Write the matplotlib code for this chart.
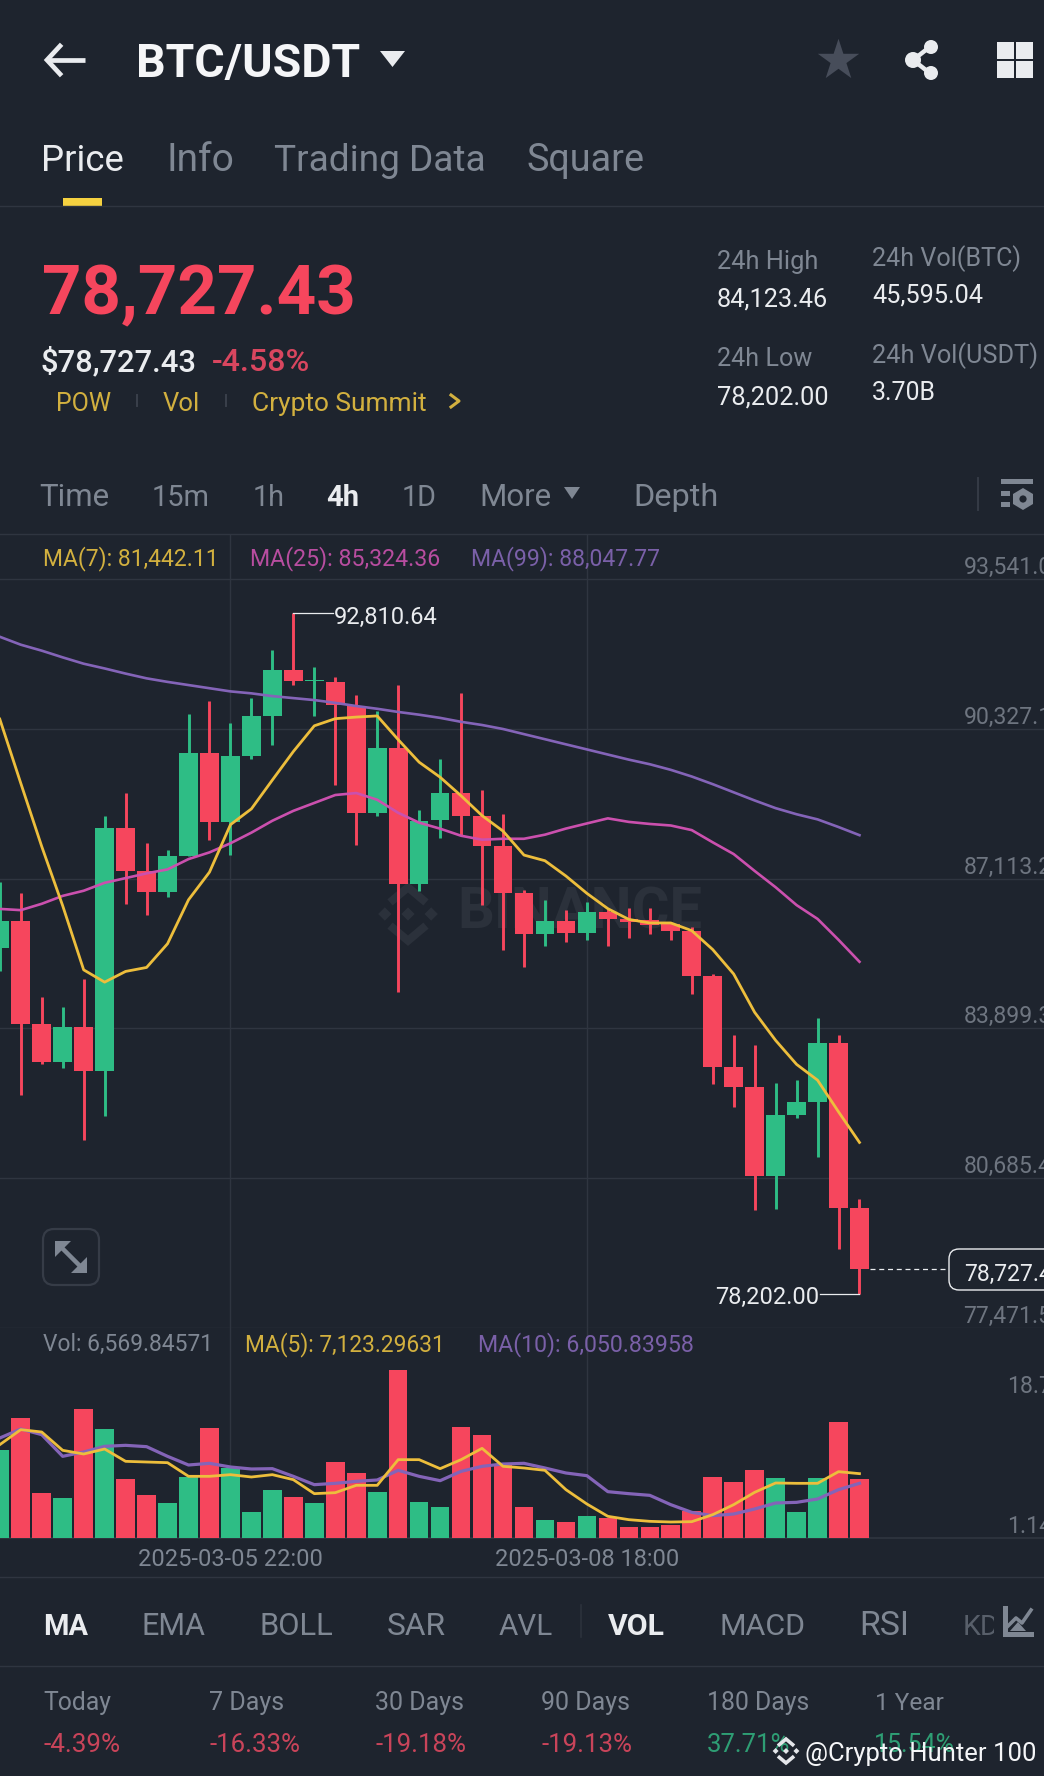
import matplotlib
matplotlib.use("Agg")
import matplotlib.pyplot as plt
from matplotlib.patches import FancyBboxPatch, Polygon, Rectangle, Circle

plt.rcParams['font.family'] = ['Roboto', 'DejaVu Sans']

# ---------- data ----------
candle_index = list(range(-1, 41))
candle_open = [85614, 86208, 83984, 83178, 83925, 82983, 88194, 87277, 86836, 87608, 89798, 88338, 89738, 90604,
               91597, 91351, 91342, 90816, 88525, 89925, 86989, 88363, 88958, 88449, 87815, 86797, 85921, 86194,
               85953, 86391, 86249, 86216, 86140, 85997, 85034, 83074, 82636, 80741, 82033, 82318, 83577, 80040]
candle_close = [86208, 83984, 83178, 83925, 82983, 88194, 87277, 86836, 87608, 89798, 88338, 89738, 90604, 91589,
                91351, 91385, 90833, 88525, 89925, 86989, 88347, 88958, 88465, 87820, 86808, 85921, 86194, 85943,
                86391, 86238, 86183, 86118, 85997, 85034, 83074, 82636, 80741, 82033, 82318, 83577, 80040, 78727]
candle_high = [87040, 86802, 84578, 84366, 84960, 88465, 88949, 87871, 87718, 90647, 90918, 90451, 90986, 92013,
               92811, 91657, 91436, 91045, 90706, 91266, 88593, 89688, 91088, 89009, 88494, 86873, 86654, 86435,
               86621, 86468, 86490, 86490, 86162, 86074, 85067, 83753, 83533, 82734, 82789, 84114, 83753, 80248]
candle_low = [85130, 82473, 83135, 83051, 81498, 82015, 86573, 86335, 86717, 87608, 87931, 87617, 89688, 89985,
              91258, 90604, 89119, 87837, 88465, 84680, 86853, 87990, 88058, 86556, 85581, 85220, 85658, 85746,
              85800, 85658, 85833, 85921, 85800, 84629, 82712, 82220, 79996, 80029, 81979, 81146, 79175, 78202]
ma7 = [90536, 89161, 87803, 86531, 85156, 84892, 85122, 85207, 85716, 86658, 87252, 88270, 88610, 89229,
       89840, 90392, 90545, 90579, 90604, 90095, 89611, 89289, 88890, 88465, 88133, 87618, 87497, 87169,
       86797, 86468, 86238, 86162, 86162, 85997, 85592, 85067, 84245, 83643, 83128, 82789, 82110, 81453]
ma25 = [86463, 86437, 86573, 86743, 86853, 87023, 87124, 87226, 87311, 87532, 87676, 87871, 88100, 88355,
        88567, 88737, 88907, 88949, 88805, 88525, 88313, 88185, 88033, 87948, 87968, 87968, 88056, 88187,
        88297, 88406, 88330, 88286, 88253, 88154, 87892, 87640, 87278, 86928, 86545, 86249, 85800, 85329]
ma99 = [92302, 92132, 92004, 91860, 91724, 91622, 91512, 91410, 91334, 91266, 91198, 91130, 91088, 91029,
        90986, 90944, 90884, 90816, 90757, 90689, 90630, 90562, 90477, 90409, 90323, 90213, 90104, 89994,
        89885, 89775, 89666, 89567, 89447, 89304, 89140, 88965, 88790, 88625, 88494, 88384, 88220, 88045]
volume = [9705, 13247, 4982, 4465, 14243, 12103, 6531, 4797, 3911, 6753, 12214, 7749, 2915, 5351,
          4539, 3911, 8413, 7159, 5092, 18635, 3985, 3395, 12325, 11402, 8118, 3469, 1993, 1808,
          2472, 2214, 1181, 1255, 1402, 2989, 6716, 6236, 7528, 6642, 2915, 6679, 12841, 6570]
vol_ma5 = [10332, 11993, 11734, 9705, 9299, 9852, 8487, 8413, 8339, 6827, 6827, 7011, 6753, 7011,
           6458, 4908, 5018, 5830, 5830, 8672, 8672, 7675, 8672, 9926, 7934, 7749, 7491, 5351,
           3764, 2399, 2030, 1845, 1771, 1808, 2583, 3690, 5055, 6089, 6052, 6052, 7343, 7123]
vol_ma10 = [11070, 12066, 11439, 9041, 9520, 10148, 10258, 10111, 9041, 8081, 8266, 7860, 7638, 7675,
            6827, 5904, 6052, 6273, 6421, 7491, 6827, 6347, 7380, 7934, 8192, 8266, 7749, 7196,
            6900, 5129, 4908, 4723, 3690, 2841, 2472, 2657, 3210, 3875, 3948, 4317, 5351, 6051]
price_ticks = [93541.06, 90327.16, 87113.26, 83899.36, 80685.46, 77471.56]
date_positions = [10, 27]
date_labels = ['2025-03-05 22:00', '2025-03-08 18:00']
high_value, high_index = 92810.64, 13
low_value, low_index = 78202.00, 40
last_price = 78727.43

# ---------- style ----------
BG = '#1E242E'
GRID = '#2F3540'
RED = '#F6465D'
GREEN = '#2EBD85'
YEL = '#EDBE3C'
PINK = '#CB50AE'
PURP = '#8464B8'
GREY = '#7F8793'
DIM = '#6E7580'
WHITE = '#EAECEF'
W, H = 1044, 1776

fig = plt.figure(figsize=(W / 100, H / 100), dpi=100, facecolor=BG)


def frac_axes(top, bottom, zorder):
    a = fig.add_axes([0, (H - bottom) / H, 1, (bottom - top) / H], zorder=zorder)
    a.patch.set_alpha(0)
    return a


back = frac_axes(0, H, 0)
ui = frac_axes(0, H, 3)
for a in (back, ui):
    a.set_xlim(0, W)
    a.set_ylim(H, 0)
    a.axis('off')

ax = frac_axes(534, 1328, 1)
vx = frac_axes(1328, 1538, 1)
xlim = (-0.99, 48.8)

colors = [GREEN if c >= o else RED for o, c in zip(candle_open, candle_close)]

# ---------- price panel ----------
ax.set_xlim(*xlim)
ax.set_ylim(77471.56, 94507)
ax.vlines(candle_index, candle_low, candle_high, colors=colors, linewidth=2.1, zorder=3)
ax.bar(candle_index, [abs(c - o) for o, c in zip(candle_open, candle_close)],
       bottom=[min(o, c) for o, c in zip(candle_open, candle_close)],
       width=0.89, color=colors, zorder=4)
ax.plot(candle_index, ma99, color=PURP, lw=1.9, zorder=5)
ax.plot(candle_index, ma25, color=PINK, lw=1.9, zorder=5)
ax.plot(candle_index, ma7, color=YEL, lw=2.0, zorder=6)
ax.yaxis.tick_right()
ax.set_yticks(price_ticks)
ax.set_yticklabels([f'{p:,.2f}' for p in price_ticks], fontsize=16.6, color=DIM)
for t in ax.get_yticklabels():
    t.set_va('bottom')
ax.tick_params(axis='y', pad=-58, length=0)
ax.set_xticks(date_positions)
ax.tick_params(axis='x', length=0, labelbottom=False)
ax.grid(True, color=GRID, lw=1.0, zorder=0)
ax.set_axisbelow(True)
for s in ax.spines.values():
    s.set_visible(False)

# high / low / last markers
ax.plot([high_index, 14.89], [high_value, high_value], color=WHITE, lw=0.9, zorder=6)
ax.annotate(f'{high_value:,.2f}', xy=(14.95, high_value), xytext=(0, -1.5), textcoords='offset points',
            color=WHITE, fontsize=17, va='center_baseline', ha='left', zorder=7)
ax.plot([low_index, 38.1], [low_value, low_value], color=WHITE, lw=0.9, zorder=6)
ax.annotate(f'{low_value:,.2f}', xy=(38.1, low_value), xytext=(0, -0.5), textcoords='offset points',
            color=WHITE, fontsize=17, va='center_baseline', ha='right', zorder=7)
ax.plot([40.5, 44.26], [last_price, last_price], color=WHITE, lw=0.9, ls=(0, (4, 3)), zorder=6)

# ---------- volume panel ----------
vx.set_xlim(*xlim)
vx.set_ylim(0, 23247)
vx.bar(candle_index, volume, width=0.887, color=colors, zorder=3)
vx.plot(candle_index, vol_ma10, color=PURP, lw=2.3, zorder=4)
vx.plot(candle_index, vol_ma5, color=YEL, lw=2.0, zorder=5)
vx.set_yticks([])
vx.set_xticks(date_positions)
vx.set_xticklabels(date_labels, fontsize=17.0, color=GREY)
vx.tick_params(axis='x', length=0, pad=7.5)
vx.grid(True, axis='x', color=GRID, lw=1.0, zorder=0)
vx.set_axisbelow(True)
for k, s in vx.spines.items():
    s.set_visible(k == 'bottom')
vx.spines['bottom'].set_color(GRID)
vx.spines['bottom'].set_linewidth(1.2)


# ---------- helpers ----------
renderer = fig.canvas.get_renderer()


def put(x0, x1, base, s, color=GREY, size=18, weight='normal', axes=None, alpha=None):
    """Text whose left edge is x0, baseline is base, scaled so it ends near x1."""
    t = (axes or ui).text(x0, base, s, color=color, fontsize=size, fontweight=weight,
                          ha='left', va='baseline', alpha=alpha)
    if x1 is not None:
        w = t.get_window_extent(renderer).width
        t.set_fontsize(size * (x1 - x0) / w)
    return t


def logo(a, cx, cy, r, color, zorder=2):
    """Four-sided exchange emblem built from small diamonds."""
    s = r * 0.23
    for dx, dy in [(0, 0), (-r * 0.8, 0), (r * 0.8, 0)]:
        a.add_patch(Polygon([(cx + dx - s, cy + dy), (cx + dx, cy + dy - s),
                             (cx + dx + s, cy + dy), (cx + dx, cy + dy + s)], color=color, lw=0, zorder=zorder))
    lw = r * 0.2
    for sg in (-1, 1):
        a.plot([cx - r * 0.62, cx, cx + r * 0.62],
               [cy + sg * r * 0.40, cy + sg * r * 0.92, cy + sg * r * 0.40],
               color=color, lw=lw, solid_joinstyle='miter', solid_capstyle='butt', zorder=zorder)


# ---------- chart watermark ----------
put(457, 702, 928, 'BINANCE', color='#2B313B', size=40, weight='bold', axes=back)
logo(back, 408, 914, 29, '#2B313B')

# ---------- dividers ----------
for y in (206, 534, 1577, 1666):
    ui.plot([0, W], [y, y], color=GRID, lw=1.0)

# ---------- top bar ----------
ui.plot([49, 85], [60, 60], color=WHITE, lw=3.4, solid_capstyle='butt')
ui.plot([60, 47, 60], [46, 60, 74], color=WHITE, lw=3.4, solid_joinstyle='miter')
put(136, 360, 77, 'BTC/USDT', color='#F5F6F8', size=31, weight='bold')
ui.add_patch(Polygon([(380, 51), (405, 51), (392.5, 67)], color=WHITE, lw=0, closed=True))
ui.scatter([838], [60], marker='*', s=980, color='#474D5A', lw=0)
ui.plot([931, 913, 931], [46, 60, 74], color=WHITE, lw=3.2)
for cx, cy, r in [(931, 47, 7), (913, 60, 8), (931, 73, 7)]:
    ui.add_patch(Circle((cx, cy), r, color=WHITE, lw=0))
for x0, y0 in [(997, 42), (1016, 42), (997, 61), (1016, 61)]:
    ui.add_patch(Rectangle((x0, y0), 17, 17, color=WHITE, lw=0))

# ---------- tabs ----------
put(41, 124, 171, 'Price', color=WHITE, size=25)
put(166, 234, 171, 'Info', size=25)
put(274, 486, 171, 'Trading Data', size=25)
put(526, 644, 171, 'Square', size=25)
ui.add_patch(Rectangle((63, 198), 39, 8, color='#F5D140', lw=0))

# ---------- price summary ----------
put(42, 356, 314, '78,727.43', color=RED, size=50, weight='bold')
put(40, 196, 371, '$78,727.43', color=WHITE, size=22, weight='medium')
put(212, 310, 371, '-4.58%', color='#D9465F', size=22, weight='medium')
put(56, 111, 411, 'POW', color='#D2B03F', size=18)
put(163, 200, 411, 'Vol', color='#D2B03F', size=18)
put(252, 427, 411, 'Crypto Summit', color='#D2B03F', size=18)
for x in (137, 226):
    ui.plot([x, x], [395, 406], color='#3A404B', lw=1.4)
ui.plot([451, 459, 451], [395, 401, 407], color='#D2B03F', lw=2.2)

put(717, 818, 269, '24h High', size=18)
put(717, 828, 307, '84,123.46', color=WHITE, size=18)
put(717, 812, 366, '24h Low', size=18)
put(717, 828, 404, '78,202.00', color=WHITE, size=18)
put(872, 1021, 266, '24h Vol(BTC)', size=18)
put(872, 983, 303, '45,595.04', color=WHITE, size=18)
put(872, 1038, 363, '24h Vol(USDT)', size=18)
put(872, 936, 400, '3.70B', color=WHITE, size=18)

# ---------- interval row ----------
for x0, x1, s in [(39, 109, 'Time'), (152, 210, '15m'), (253, 285, '1h'),
                  (402, 437, '1D'), (479, 551, 'More'), (633, 718, 'Depth')]:
    put(x0, x1, 506, s, size=22)
put(326, 359, 506, '4h', color=WHITE, size=22, weight='bold')
ui.add_patch(Polygon([(564, 487), (580, 487), (572, 499)], color=GREY, lw=0))
ui.plot([978, 978], [478, 510], color='#353B46', lw=1.4)
ui.add_patch(Rectangle((1001, 479), 32, 5, color=GREY, lw=0))
ui.add_patch(Rectangle((1001, 491), 9, 5, color=GREY, lw=0))
ui.add_patch(Rectangle((1001, 502), 9, 5, color=GREY, lw=0))
ui.add_patch(Polygon([(1023, 488), (1033, 494), (1033, 504), (1023, 510), (1013, 504), (1013, 494)], color=GREY, lw=0))
ui.add_patch(Circle((1023, 499), 3.6, color=BG, lw=0))

# ---------- panel headers ----------
put(43, 218, 565, 'MA(7): 81,442.11', color='#D2B03F', size=17)
put(250, 440, 565, 'MA(25): 85,324.36', color='#B84DA0', size=17)
put(471, 660, 565, 'MA(99): 88,047.77', color='#7A60A8', size=17)
put(43, 214, 1351, 'Vol: 6,569.84571', color=GREY, size=16)
put(245, 446, 1351, 'MA(5): 7,123.29631', color='#D2B03F', size=16)
put(478, 695, 1351, 'MA(10): 6,050.83958', color='#7A60A8', size=16)
put(1007, None, 1393, '18.7', color=DIM, size=16.6)
put(1007, None, 1533, '1.14', color=DIM, size=16.6)

# ---------- last price tag ----------
ui.add_patch(FancyBboxPatch((949, 1249), 130, 41, boxstyle='round,pad=0,rounding_size=10',
                            fc=BG, ec=WHITE, lw=1.0))
ui.text(964, 1281, f'{last_price:,.2f}', color=WHITE, fontsize=16.6, ha='left', va='baseline')

# ---------- expand button ----------
ui.add_patch(FancyBboxPatch((43, 1229), 56, 56, boxstyle='round,pad=0,rounding_size=11',
                            fc='none', ec='#363C47', lw=1.6))
ui.add_patch(Polygon([(55, 1241), (71, 1241), (55, 1257)], color='#7F8793', lw=0))
ui.add_patch(Polygon([(87, 1273), (71, 1273), (87, 1257)], color='#7F8793', lw=0))
ui.plot([60, 82], [1246, 1268], color='#7F8793', lw=3.2)

# ---------- indicator row ----------
put(43, 88, 1635, 'MA', color=WHITE, size=21, weight='bold')
for x0, x1, s in [(142, 206, 'EMA'), (260, 334, 'BOLL'), (387, 446, 'SAR'), (499, 553, 'AVL'),
                  (720, 806, 'MACD'), (859, 909, 'RSI')]:
    put(x0, x1, 1635, s, size=21)
put(963, None, 1635, 'KD', size=20.5, alpha=0.6)
put(608, 665, 1635, 'VOL', color=WHITE, size=21, weight='bold')
ui.add_patch(Rectangle((994, 1600), 50, 44, color=BG, lw=0, zorder=4))
ui.plot([581, 581], [1605, 1637], color='#2C323C', lw=1.2)
ui.plot([1005, 1005, 1031], [1608, 1634, 1634], color=GREY, lw=3.6, solid_joinstyle='miter', zorder=5)
ui.plot([1006, 1016, 1022, 1031], [1628, 1618, 1623, 1610], color=GREY, lw=2.6, zorder=5)
ui.add_patch(Polygon([(1010, 1631), (1018, 1622), (1026, 1631)], color=GREY, lw=0, zorder=5))

# ---------- returns ----------
for x0, x1, s in [(43, 111, 'Today'), (209, 284, '7 Days'), (375, 464, '30 Days'),
                  (541, 630, '90 Days'), (707, 809, '180 Days'), (875, 944, '1 Year')]:
    put(x0, x1, 1710, s, size=18)
for x0, x1, s, c in [(43, 120, '-4.39%', '#C9445A'), (209, 300, '-16.33%', '#C9445A'),
                     (375, 466, '-19.18%', '#C9445A'), (541, 632, '-19.13%', '#C9445A'),
                     (707, 790, '37.71%', '#2E9E74'), (874, 955, '15.54%', '#2E9E74')]:
    put(x0, x1, 1752, s, color=c, size=18)

# ---------- author mark ----------
logo(ui, 786, 1751, 13, '#E4E6EA', zorder=5)
put(805, 1036, 1761, '@Crypto Hunter 100', color='#F5F6F8', size=20)

fig.savefig('out.png', dpi=100, facecolor=BG)
